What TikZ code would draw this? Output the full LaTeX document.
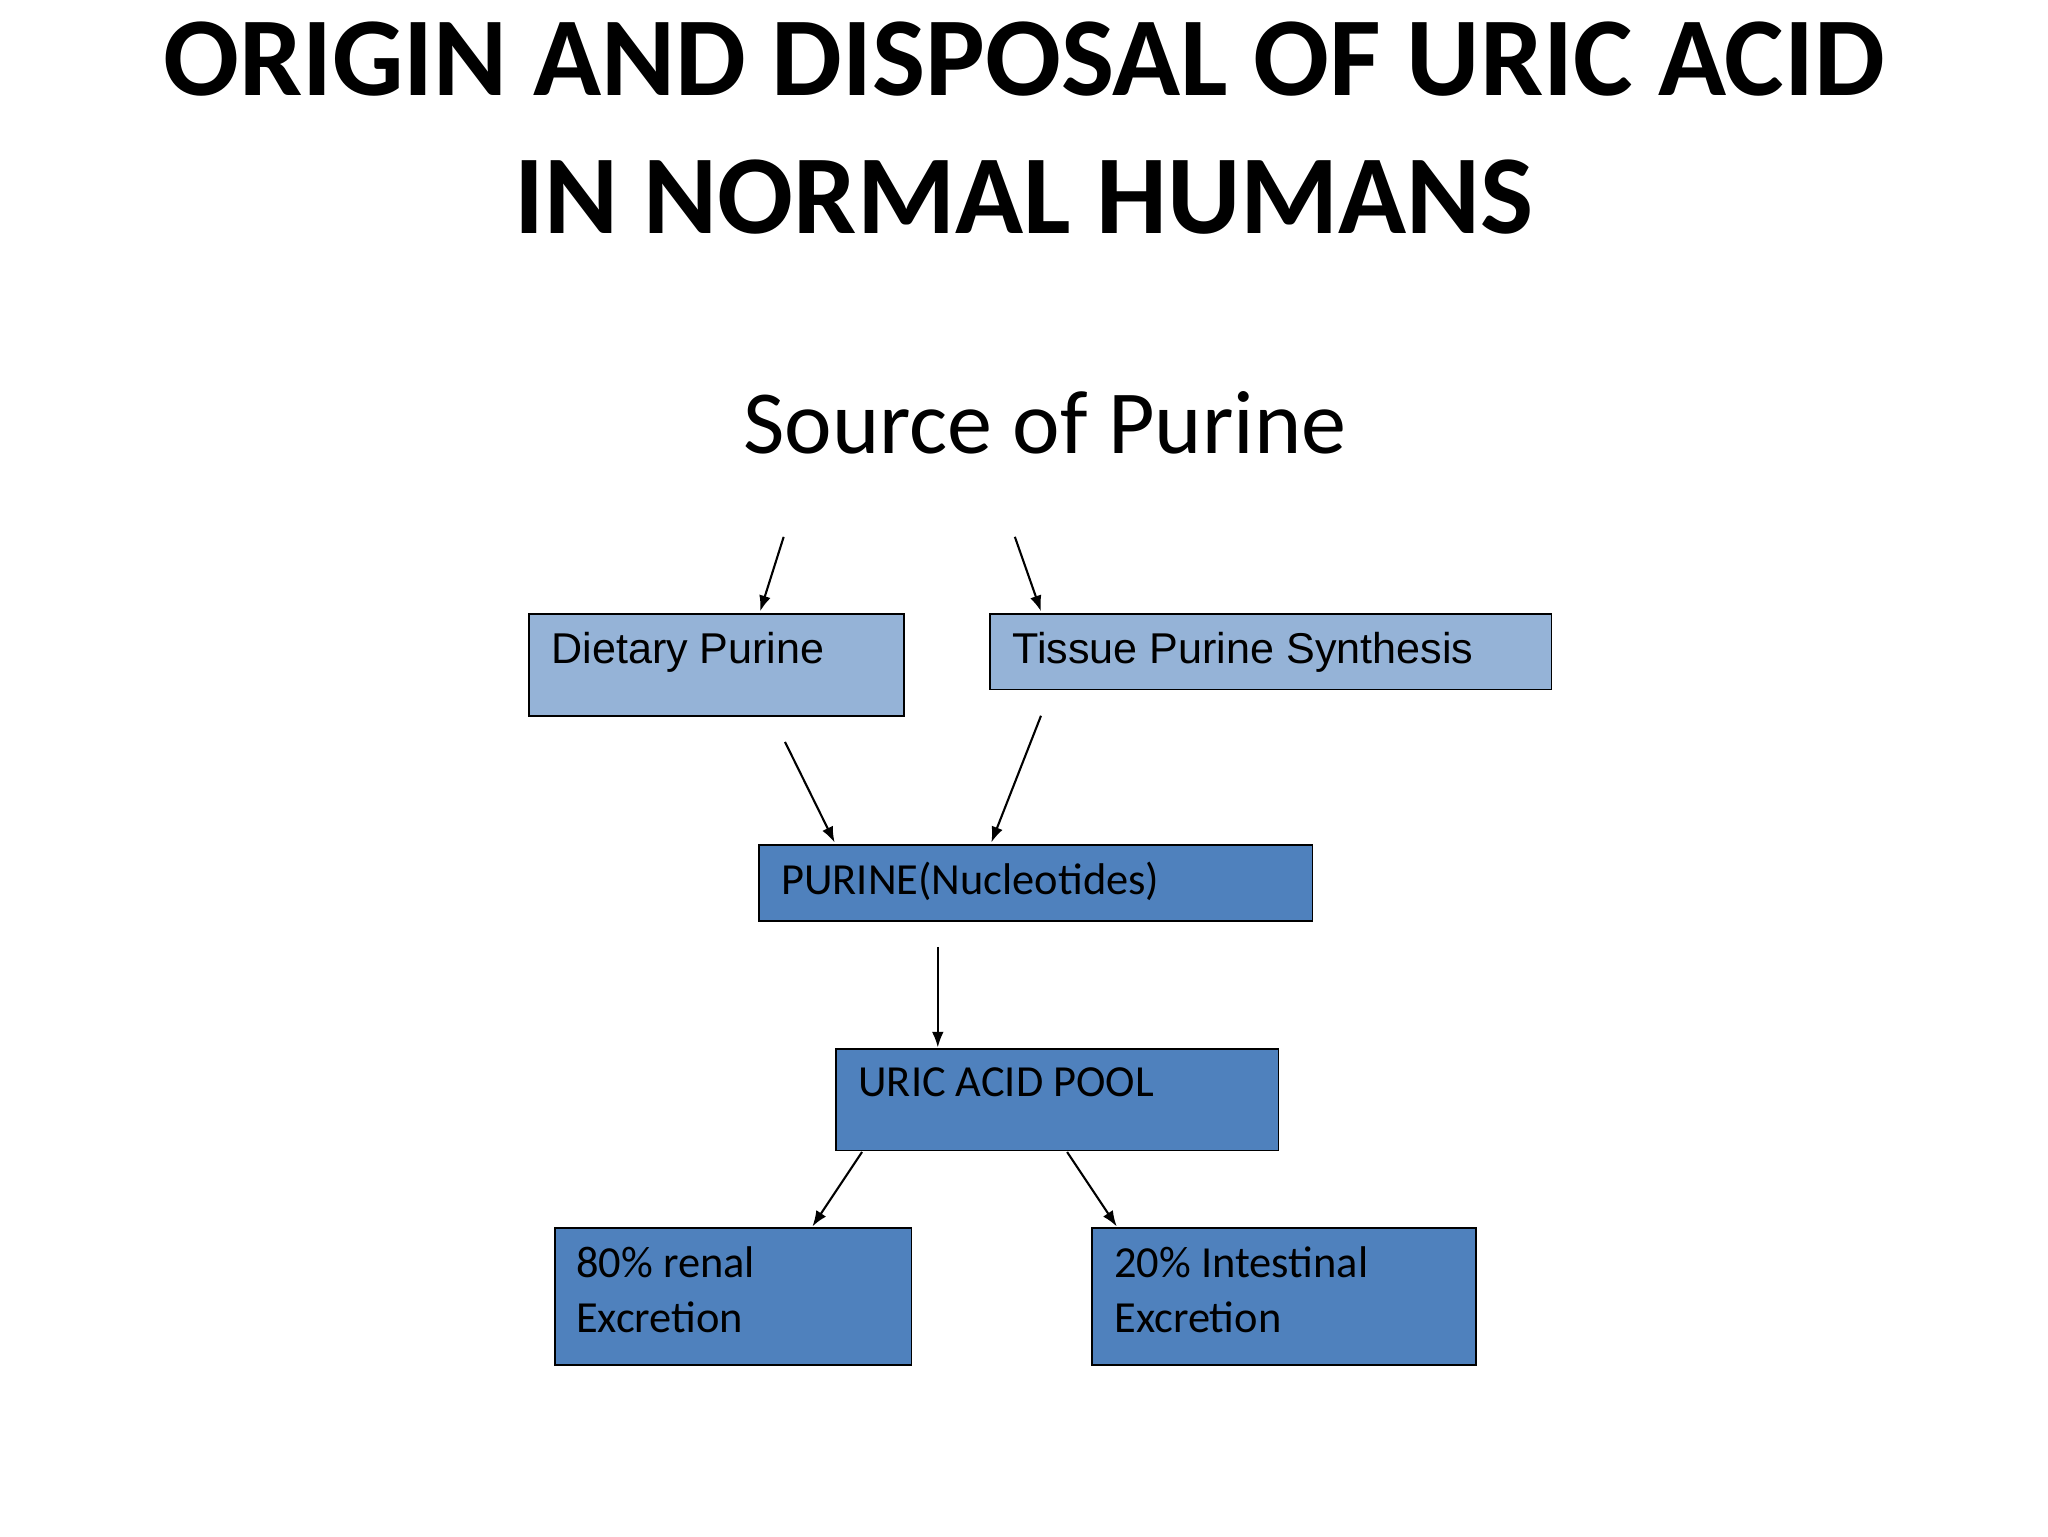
\documentclass[tikz,border=0pt]{standalone}
\usepackage{fontspec}
\setmainfont{Carlito}
\newfontfamily\arial{Liberation Sans}
\usetikzlibrary{arrows.meta}
\definecolor{lb}{HTML}{95B3D7}
\definecolor{db}{HTML}{4F81BD}
\begin{document}
\begin{tikzpicture}[x=1pt,y=-1pt,
  box/.style={draw=black,line width=1.2pt},
  lbl/.style={anchor=north west,inner sep=0pt,align=left,font=\fontsize{34}{42}\selectfont},
  arr/.style={-{Latex[length=12pt,width=9pt]},line width=1.6pt}]
\useasboundingbox[fill=white] (0,0) rectangle (1568,1176);
\node[font=\fontsize{86}{106}\selectfont\bfseries,align=center] (title) at (784,98) {ORIGIN AND DISPOSAL OF URIC ACID\\IN NORMAL HUMANS};
\node[font=\fontsize{69}{80}\selectfont] (src) at (800,324) {Source of Purine};
\draw[box,fill=lb] (405,470) rectangle (692,548);
\draw[box,fill=lb] (758,470) rectangle (1188,528);
\draw[box,fill=db] (581,647) rectangle (1005,705);
\draw[box,fill=db] (640,803) rectangle (979,881);
\draw[box,fill=db] (425,940) rectangle (698,1045);
\draw[box,fill=db] (836,940) rectangle (1130,1045);
\node[lbl,font=\arial\fontsize{33}{40}\selectfont] (d) at (422,484) {Dietary Purine};
\node[lbl,font=\arial\fontsize{33}{40}\selectfont] (t) at (775,484) {Tissue Purine Synthesis};
\node[lbl] (p) at (598,660) {PURINE(Nucleotides)};
\node[lbl] (u) at (657,817) {URIC ACID POOL};
\node[lbl] (r) at (441,954) {80\% renal\\Excretion};
\node[lbl] (i) at (853,954) {20\% Intestinal\\Excretion};
\coordinate (a1) at (600,411); \coordinate (b1) at (582,468);
\coordinate (a2) at (777,411); \coordinate (b2) at (797,468);
\coordinate (a3) at (601,568); \coordinate (b3) at (639,645);
\coordinate (a4) at (797,548); \coordinate (b4) at (759,645);
\coordinate (a5) at (718,725); \coordinate (b5) at (718,802);
\coordinate (a6) at (660,882); \coordinate (b6) at (622,939);
\coordinate (a7) at (817,882); \coordinate (b7) at (855,939);
\foreach \k in {1,...,7} \draw[arr] (a\k) -- (b\k);
\end{tikzpicture}
\end{document}
